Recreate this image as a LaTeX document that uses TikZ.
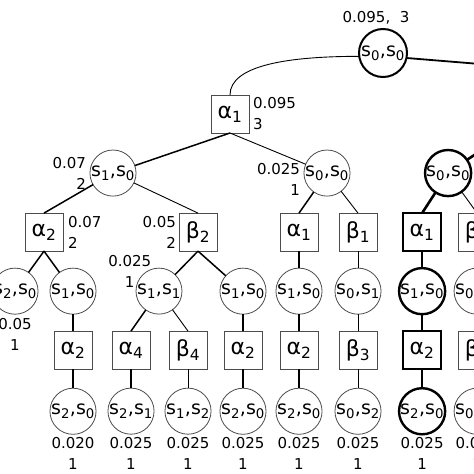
\documentclass[tikz,border=0pt]{standalone}
\usepackage{fontspec}
\setmainfont{DejaVu Sans}
\usetikzlibrary{positioning}
\newcommand{\idx}[1]{\textsubscript{#1}}
\newcommand{\spair}[2]{s\idx{#1},s\idx{#2}}

\begin{document}
\begin{tikzpicture}[every node/.append style={inner sep=0pt, outer sep=0pt},
  st/.style={circle, draw=black!70, line width=0.8pt, minimum size=46pt,
             font=\fontsize{19}{22}\selectfont},
  act/.style={rectangle, draw=black!70, line width=1pt, minimum size=38pt,
              font=\fontsize{22}{26}\selectfont},
  val/.style={inner sep=1pt, font=\fontsize{15}{21}\selectfont},
  hi/.style={draw=black, line width=2.4pt},
  edge/.style={line width=1.5pt},
  thinedge/.style={line width=0.9pt},
  hiedge/.style={line width=2.6pt}
  ]
  \clip (0,0) rectangle (474pt,-474pt);
  % root and first action
  \node (s00) [st, draw=black, line width=2pt, minimum size=48pt] at (383pt,-53pt) {\spair{0}{0}};
  \node (v00) [val, above=4pt of s00, xshift=-7pt] {0.095,\ \ 3};
  \node (a1) [act, below=18pt of s00, xshift=-153pt] {α\idx{1}};
  \node (va1) [val, align=left, right=3pt of a1] {0.095\\3};
  % second level
  \node (s10) [st, below=17pt of a1, xshift=-117pt] {\spair{1}{0}};
  \node (vs10) [val, align=right, left=3pt of s10] {0.07\\2};
  \node (s00b) [st, below=17pt of a1, xshift=97pt] {\spair{0}{0}};
  \node (vs00b) [val, align=right, left=3pt of s00b, yshift=-6pt] {0.025\\1};
  \node (s00t) [st, hi, right=75pt of s00b] {\spair{0}{0}};
  % actions
  \node (a2) [act, below=17pt of s10, xshift=-69pt] {α\idx{2}};
  \node (va2) [val, align=left, right=4pt of a2] {0.07\\2};
  \node (b2) [act, below=17pt of s10, xshift=85pt] {β\idx{2}};
  \node (vb2) [val, align=right, left=2pt of b2] {0.05\\2};
  \node (a1b) [act, below=17pt of s00b, xshift=-28pt] {α\idx{1}};
  \node (b1) [act, below=17pt of s00b, xshift=31pt] {β\idx{1}};
  \node (a1t) [act, hi, below=17pt of s00t, xshift=-26pt] {α\idx{1}};
  \node (b1t) [act, below=17pt of s00t, xshift=29pt] {β\idx{1}};
  % fourth level
  \node (s20) [st, below=17pt of a2, xshift=-29pt] {\spair{2}{0}};
  \node (vs20) [val, align=center, below=3pt of s20] {0.05\\1};
  \node (s10b) [st, below=17pt of a2, xshift=29pt] {\spair{1}{0}};
  \node (s11) [st, below=17pt of b2, xshift=-39pt] {\spair{1}{1}};
  \node (vs11) [val, align=center] at ([xshift=-13pt,yshift=3pt]s11.north west) {0.025\\1};
  \node (s10c) [st, below=17pt of b2, xshift=45pt] {\spair{1}{0}};
  \node (s10d) [st, below=17pt of a1b] {\spair{1}{0}};
  \node (s01) [st, below=17pt of b1] {\spair{0}{1}};
  \node (s10t) [st, hi, below=17pt of a1t] {\spair{1}{0}};
  \node (s01t) [st, below=17pt of b1t] {\spair{0}{1}};
  % fifth level
  \node (a2b) [act, below=17pt of s10b] {α\idx{2}};
  \node (a4) [act, below=17pt of s11, xshift=-28pt] {α\idx{4}};
  \node (b4) [act, below=17pt of s11, xshift=29pt] {β\idx{4}};
  \node (a2c) [act, below=17pt of s10c] {α\idx{2}};
  \node (a2d) [act, below=17pt of s10d] {α\idx{2}};
  \node (b3) [act, below=17pt of s01] {β\idx{3}};
  \node (a2t) [act, hi, below=17pt of s10t] {α\idx{2}};
  \node (b3t) [act, below=17pt of s01t] {β\idx{3}};
  % leaves
  \node (s20b) [st, below=19pt of a2b] {\spair{2}{0}};
  \node (s21) [st, below=19pt of a4] {\spair{2}{1}};
  \node (s12) [st, below=19pt of b4] {\spair{1}{2}};
  \node (s20c) [st, below=19pt of a2c] {\spair{2}{0}};
  \node (s20d) [st, below=19pt of a2d] {\spair{2}{0}};
  \node (s02) [st, below=19pt of b3] {\spair{0}{2}};
  \node (s20t) [st, hi, below=19pt of a2t] {\spair{2}{0}};
  \node (s02t) [st, below=19pt of b3t] {\spair{0}{2}};
  \node (vs20b) [val, align=center, below=2pt of s20b] {0.020\\1};
  \node (vs21) [val, align=center, below=2pt of s21] {0.025\\1};
  \node (vs12) [val, align=center, below=2pt of s12] {0.025\\1};
  \node (vs20c) [val, align=center, below=2pt of s20c] {0.025\\1};
  \node (vs20d) [val, align=center, below=2pt of s20d] {0.025\\1};
  \node (vs02) [val, align=center, below=2pt of s02] {0.025\\1};
  \node (vs20t) [val, align=center, below=2pt of s20t] {0.025\\1};
  \node (vs02t) [val, align=center, below=2pt of s02t] {0.025\\1};
  \coordinate (offR) at (480pt,-64pt);
  \coordinate (offT) at (482pt,-150pt);
  % connectors
  \draw[thinedge] (s00.188) .. controls +(-70pt,0pt) and +(0pt,30pt) .. (a1.north);
  \draw[line width=1.8pt] (s00.-12) -- (offR);
  \draw[edge] (a1.south) -- (s10);
  \draw[thinedge] (a1.south) -- (s00b);
  \draw[edge] (s10) -- (a2.north);
  \draw[thinedge] (s10) -- (b2.north);
  \draw[edge] (a2.south) -- (s20);
  \draw[edge] (a2.south) -- (s10b);
  \draw[edge] (b2.south) -- (s11);
  \draw[edge] (b2.south) -- (s10c);
  \draw[edge] (s10b) -- (a2b);
  \draw[edge] (a2b) -- (s20b);
  \draw[edge] (s11) -- (a4.north);
  \draw[thinedge] (s11) -- (b4.north);
  \draw[edge] (a4) -- (s21);
  \draw[thinedge] (b4) -- (s12);
  \draw[edge] (s10c) -- (a2c);
  \draw[edge] (a2c) -- (s20c);
  \draw[edge] (s00b) -- (a1b.north);
  \draw[thinedge] (s00b) -- (b1.north);
  \draw[edge] (a1b) -- (s10d);
  \draw[edge] (s10d) -- (a2d);
  \draw[edge] (a2d) -- (s20d);
  \draw[thinedge] (b1) -- (s01);
  \draw[thinedge] (s01) -- (b3);
  \draw[thinedge] (b3) -- (s02);
  \draw[hiedge] (s00t.35) -- (offT);
  \draw[hiedge] (s00t) -- (a1t.north);
  \draw[thinedge] (s00t) -- (b1t.north);
  \draw[hiedge] (a1t) -- (s10t);
  \draw[hiedge] (s10t) -- (a2t);
  \draw[hiedge] (a2t) -- (s20t);
  \draw[thinedge] (b1t) -- (s01t);
  \draw[thinedge] (s01t) -- (b3t);
  \draw[thinedge] (b3t) -- (s02t);
\end{tikzpicture}
\end{document}
